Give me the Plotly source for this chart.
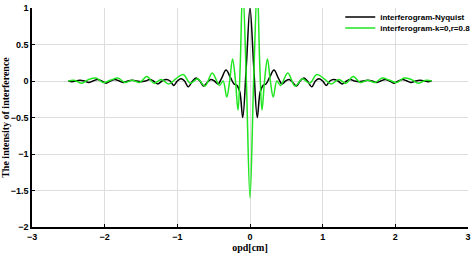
import plotly.graph_objects as go

# ---- data ----
black_x = [-2.50, -2.45, -2.40, -2.34, -2.28, -2.22, -2.16, -2.10, -2.04, -1.98, -1.92, -1.86, -1.80,
           -1.74, -1.68, -1.62, -1.56, -1.50, -1.44, -1.38, -1.33, -1.27, -1.21, -1.15, -1.10, -1.05,
           -1.00, -0.95, -0.90, -0.85, -0.79, -0.74, -0.69, -0.64, -0.59, -0.54, -0.49, -0.44, -0.39,
           -0.33, -0.27, -0.22, -0.18, -0.14, -0.10, -0.05, 0.00,
           0.05, 0.10, 0.14, 0.18, 0.22, 0.27, 0.33, 0.39, 0.44, 0.49, 0.54, 0.59, 0.64, 0.69, 0.74,
           0.79, 0.85, 0.90, 0.95, 1.00, 1.05, 1.10, 1.15, 1.21, 1.27, 1.33, 1.38, 1.44, 1.50, 1.56,
           1.62, 1.68, 1.74, 1.80, 1.86, 1.92, 1.98, 2.04, 2.10, 2.16, 2.22, 2.28, 2.34, 2.40, 2.45, 2.50]
black_y = [0.00, -0.01, 0.00, 0.01, 0.00, -0.02, 0.00, 0.02, 0.00, -0.03, 0.00, 0.02, 0.00,
           -0.02, 0.00, 0.01, 0.00, -0.01, 0.00, 0.02, 0.00, -0.04, 0.00, 0.02, 0.00, -0.06,
           0.00, 0.03, 0.00, -0.08, 0.00, 0.04, 0.00, -0.07, -0.02, 0.02, 0.00, -0.04, 0.04,
           0.15, 0.05, -0.04, -0.06, -0.15, -0.50, 0.22, 1.00,
           0.22, -0.50, -0.15, -0.06, -0.04, 0.05, 0.15, 0.04, -0.04, 0.00, 0.02, -0.02, -0.07, 0.00, 0.04,
           0.00, -0.08, 0.00, 0.03, 0.00, -0.06, 0.00, 0.02, 0.00, -0.04, 0.00, 0.02, 0.00, -0.01, 0.00,
           0.01, 0.00, -0.02, 0.00, 0.02, 0.00, -0.03, 0.00, 0.02, 0.00, -0.02, 0.00, 0.01, 0.00, -0.01, 0.00]

green_x = [-2.50, -2.42, -2.32, -2.22, -2.12, -2.02, -1.92, -1.82, -1.72, -1.62, -1.52, -1.42, -1.32,
           -1.22, -1.12, -1.02, -0.92, -0.82, -0.72, -0.62, -0.52, -0.42, -0.37, -0.32, -0.28, -0.24,
           -0.20, -0.165, -0.135, -0.10, -0.05, 0.00,
           0.05, 0.10, 0.135, 0.165, 0.20, 0.24, 0.28, 0.32, 0.37, 0.42, 0.52, 0.62, 0.72, 0.82, 0.92,
           1.02, 1.12, 1.22, 1.32, 1.42, 1.52, 1.62, 1.72, 1.82, 1.92, 2.02, 2.12, 2.22, 2.32, 2.42, 2.50]
green_y = [0.00, 0.01, -0.03, 0.02, 0.04, -0.02, 0.01, 0.04, -0.02, 0.01, -0.02, 0.06, -0.03,
           0.02, -0.04, 0.03, 0.09, -0.03, 0.03, -0.07, 0.11, -0.06, 0.00, -0.22, 0.00, 0.30,
           0.00, -0.40, 0.20, 1.30, 0.00, -1.60,
           0.00, 1.30, 0.20, -0.40, 0.00, 0.30, 0.00, -0.22, 0.00, -0.06, 0.11, -0.07, 0.03, -0.03, 0.09,
           0.03, -0.04, 0.02, -0.03, 0.06, -0.02, 0.01, -0.02, 0.04, 0.01, -0.02, 0.04, 0.02, -0.03, 0.01, 0.00]

series_names = ["interferogram-Nyquist", "interferogram-k=0,r=0.8"]
x_ticks = [-3, -2, -1, 0, 1, 2, 3]
y_ticks = [-2, -1.5, -1, -0.5, 0, 0.5, 1]
x_title = "opd[cm]"
y_title = "The intensity of interference"

fig = go.Figure()
fig.add_trace(go.Scatter(x=black_x, y=black_y, mode="lines", name=series_names[0], legend="legend",
                         line=dict(color="black", width=1.5, shape="spline", smoothing=1.0)))
fig.add_trace(go.Scatter(x=green_x, y=green_y, mode="lines", name=series_names[1], legend="legend2",
                         line=dict(color="#1fe61f", width=1.5, shape="spline", smoothing=1.0)))

tick_font = dict(family="Liberation Sans, Arial", size=9, color="black", weight="bold")
title_font = dict(family="Liberation Serif, Times New Roman", size=10, color="black", weight="bold")
leg_font = dict(family="Liberation Sans, Arial", size=8, color="black", weight="bold")

fig.update_layout(
    width=474, height=257,
    margin=dict(l=32, r=6, t=8, b=30, autoexpand=False),
    paper_bgcolor="white", plot_bgcolor="white",
    showlegend=True,
    legend=dict(x=0.707, y=0.959, xanchor="left", yanchor="middle",
                bgcolor="rgba(0,0,0,0)", borderwidth=0, font=leg_font, itemwidth=30),
    legend2=dict(x=0.707, y=0.909, xanchor="left", yanchor="middle",
                 bgcolor="rgba(0,0,0,0)", borderwidth=0, font=leg_font, itemwidth=30),
)
fig.update_xaxes(range=[-3, 3], tickvals=x_ticks, ticktext=[str(v).replace("-", "\u2212") for v in x_ticks],
                 showgrid=True, gridcolor="#dddddd", gridwidth=1,
                 showline=True, linecolor="black", linewidth=1.5,
                 ticks="inside", ticklen=3, tickcolor="black", tickwidth=1,
                 zeroline=False, tickfont=tick_font, automargin=False,
                 title=dict(text=x_title, font=title_font, standoff=2))
fig.update_yaxes(range=[-2, 1], tickvals=y_ticks,
                 ticktext=[("%g" % v).replace("-", "\u2212") for v in y_ticks],
                 showgrid=True, gridcolor="#dddddd", gridwidth=1,
                 showline=True, linecolor="black", linewidth=1.5,
                 ticks="inside", ticklen=3, tickcolor="black", tickwidth=1,
                 zeroline=False, tickfont=tick_font, automargin=False,
                 title=dict(text=y_title, font=title_font, standoff=4))

fig.write_html("out.html")
